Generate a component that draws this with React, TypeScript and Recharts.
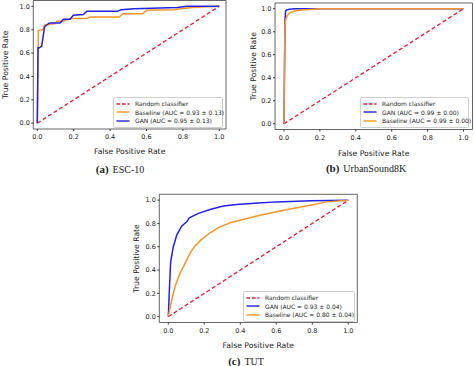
import React from 'react';
import { LineChart, Line, XAxis, YAxis, ReferenceArea, Legend, Label } from 'recharts';

// ESC-10
const ESC_BASE_FPR = [0, 0.006, 0.03, 0.04, 0.097, 0.107, 0.143, 0.16, 0.195, 0.27, 0.29, 0.45, 0.47, 0.58, 0.6, 0.75, 0.82, 0.9, 1.0];
const ESC_BASE_TPR = [0, 0.795, 0.8, 0.838, 0.852, 0.872, 0.872, 0.885, 0.895, 0.895, 0.909, 0.909, 0.937, 0.937, 0.966, 0.97, 0.985, 0.995, 1.0];
const ESC_GAN_FPR = [0, 0.004, 0.012, 0.024, 0.04, 0.05, 0.066, 0.125, 0.143, 0.18, 0.198, 0.253, 0.272, 0.44, 0.46, 0.53, 0.77, 0.82, 1.0];
const ESC_GAN_TPR = [0, 0.645, 0.645, 0.66, 0.825, 0.838, 0.858, 0.858, 0.89, 0.89, 0.923, 0.93, 0.957, 0.957, 0.97, 0.98, 0.99, 1.0, 1.0];

// UrbanSound8K
const URBAN_GAN_FPR = [0, 0.006, 0.009, 0.015, 0.03, 0.06, 1.0];
const URBAN_GAN_TPR = [0, 0.9, 0.98, 0.99, 0.995, 1.0, 1.0];
const URBAN_BASE_FPR = [0, 0.003, 0.006, 0.01, 0.02, 0.035, 0.06, 0.1, 0.2, 1.0];
const URBAN_BASE_TPR = [0, 0.6, 0.85, 0.91, 0.945, 0.965, 0.98, 0.99, 1.0, 1.0];

// TUT
const TUT_GAN_FPR = [0, 0.003, 0.006, 0.013, 0.028, 0.047, 0.074, 0.102, 0.117, 0.167, 0.232, 0.306, 0.38, 0.5, 0.6, 0.79, 1.0];
const TUT_GAN_TPR = [0, 0.12, 0.23, 0.47, 0.6, 0.7, 0.777, 0.814, 0.848, 0.886, 0.92, 0.949, 0.963, 0.975, 0.985, 0.995, 1.0];
const TUT_BASE_FPR = [0, 0.019, 0.037, 0.065, 0.093, 0.12, 0.148, 0.185, 0.232, 0.287, 0.343, 0.436, 0.51, 0.64, 0.79, 0.88, 1.0];
const TUT_BASE_TPR = [0, 0.143, 0.257, 0.372, 0.457, 0.543, 0.606, 0.663, 0.72, 0.771, 0.806, 0.843, 0.87, 0.914, 0.957, 0.985, 1.0];

const DIAG = [0, 1];
const TICKS = [0, 0.2, 0.4, 0.6, 0.8, 1.0];

const BLUE = '#2222e6';
const ORANGE = '#f7952a';
const RED = '#e31c34';
const FONT = '"DejaVu Sans", sans-serif';

const pts = (xs: number[], ys: number[]) => xs.map((x, i) => ({ x, y: ys[i] }));

type Series = { name: string; color: string; dashed?: boolean; data: { x: number; y: number }[] };

const random: Series = { name: 'Random classifier', color: RED, dashed: true, data: pts(DIAG, DIAG) };

const panels = [
  {
    key: 'a', letter: '(a)', title: 'ESC-10',
    L: 0, T: 0, W: 228, H: 158, yw: 33.3, mt: 0.5, mr: 2, xh: 29, ylabOff: 5, xlabOff: 4,
    xDomain: [-0.022, 1.037], yDomain: [-0.05, 1.05],
    legend: { left: 113, top: 97, width: 110 },
    caption: { x: 120, y: 168 },
    series: [
      random,
      { name: 'Baseline (AUC = 0.93 ± 0.13)', color: ORANGE, data: pts(ESC_BASE_FPR, ESC_BASE_TPR) },
      { name: 'GAN (AUC = 0.95 ± 0.13)', color: BLUE, data: pts(ESC_GAN_FPR, ESC_GAN_TPR) },
    ] as Series[],
  },
  {
    key: 'b', letter: '(b)', title: 'UrbanSound8K',
    L: 245, T: 0, W: 228.5, H: 158, yw: 30, mt: 3, mr: 1, xh: 28.5, ylabOff: 8, xlabOff: 2.5,
    xDomain: [-0.05, 1.05], yDomain: [-0.05, 1.05],
    legend: { left: 115, top: 97, width: 109 },
    caption: { x: 366, y: 166.7 },
    series: [
      random,
      { name: 'GAN (AUC = 0.99 ± 0.00)', color: BLUE, data: pts(URBAN_GAN_FPR, URBAN_GAN_TPR) },
      { name: 'Baseline (AUC = 0.99 ± 0.00)', color: ORANGE, data: pts(URBAN_BASE_FPR, URBAN_BASE_TPR) },
    ] as Series[],
  },
  {
    key: 'c', letter: '(c)', title: 'TUT',
    L: 130, T: 190, W: 229.3, H: 160, yw: 29.3, mt: 4.3, mr: 2, xh: 27.5, ylabOff: 6.7, xlabOff: 2,
    xDomain: [-0.05, 1.05], yDomain: [-0.05, 1.05],
    legend: { left: 113, top: 101, width: 112 },
    caption: { x: 246, y: 359.5 },
    series: [
      random,
      { name: 'GAN (AUC = 0.93 ± 0.04)', color: BLUE, data: pts(TUT_GAN_FPR, TUT_GAN_TPR) },
      { name: 'Baseline (AUC = 0.80 ± 0.04)', color: ORANGE, data: pts(TUT_BASE_FPR, TUT_BASE_TPR) },
    ] as Series[],
  },
];

function LegendBox({ series, width }: { series: Series[]; width: number }) {
  return (
    <div style={{ width, boxSizing: 'border-box', border: '1px solid #d0d0d0', borderRadius: 2, background: 'rgba(255,255,255,0.85)', padding: '1.5px 2px 1.5px 2px', fontFamily: FONT, fontSize: 6, color: '#222' }}>
      {series.map((s) => (
        <div key={s.name} style={{ display: 'flex', alignItems: 'center', height: 8.6, whiteSpace: 'nowrap' }}>
          <svg width={14} height={6} style={{ marginRight: 5, flexShrink: 0 }}>
            <line x1={0.5} y1={3} x2={13.5} y2={3} stroke={s.color} strokeWidth={1.4} strokeDasharray={s.dashed ? '3.5 2' : undefined} />
          </svg>
          <span>{s.name}</span>
        </div>
      ))}
    </div>
  );
}

function RocPanel({ p }: { p: (typeof panels)[number] }) {
  const tickStyle = { fontFamily: FONT, fontSize: 6.5, fill: '#222' };
  const labelStyle = { fontFamily: FONT, fontSize: 7.7, fill: '#222', textAnchor: 'middle' as const };
  return (
    <div style={{ position: 'absolute', left: p.L, top: p.T }}>
      <LineChart width={p.W} height={p.H} margin={{ top: p.mt, right: p.mr, left: 0, bottom: 0 }}>
        <XAxis
          type="number"
          dataKey="x"
          domain={p.xDomain}
          ticks={TICKS}
          allowDataOverflow
          height={p.xh}
          axisLine={false}
          tickLine={{ stroke: '#333' }}
          tickSize={2}
          tickMargin={3.5}
          tick={tickStyle}
          tickFormatter={(v: number) => v.toFixed(1)}
        >
          <Label value="False Positive Rate" position="insideBottom" offset={p.xlabOff} style={labelStyle} />
        </XAxis>
        <YAxis
          type="number"
          dataKey="y"
          domain={p.yDomain}
          ticks={TICKS}
          allowDataOverflow
          width={p.yw}
          axisLine={false}
          tickLine={{ stroke: '#333' }}
          tickSize={2}
          tickMargin={1.5}
          tick={tickStyle}
          tickFormatter={(v: number) => v.toFixed(1)}
        >
          <Label value="True Positive Rate" position="insideLeft" angle={-90} offset={p.ylabOff} style={labelStyle} />
        </YAxis>
        {p.series.map((s) => (
          <Line
            key={s.name}
            data={s.data}
            dataKey="y"
            type="linear"
            stroke={s.color}
            strokeWidth={s.dashed ? 1.3 : 1.5}
            strokeDasharray={s.dashed ? '4 2.5' : undefined}
            dot={false}
            activeDot={false}
            isAnimationActive={false}
          />
        ))}
        <ReferenceArea
          x1={p.xDomain[0]}
          x2={p.xDomain[1]}
          y1={p.yDomain[0]}
          y2={p.yDomain[1]}
          fill="none"
          fillOpacity={0}
          stroke="#555"
          strokeWidth={0.9}
          ifOverflow="visible"
        />
        <Legend
          layout="vertical"
          align="center"
          verticalAlign="middle"
          wrapperStyle={{ left: p.legend.left, top: p.legend.top, width: p.legend.width }}
          content={() => <LegendBox series={p.series} width={p.legend.width} />}
        />
      </LineChart>
    </div>
  );
}

export default function App() {
  return (
    <div style={{ position: 'relative', width: 474, height: 366, overflow: 'hidden', background: '#fff' }}>
      <style>{'body{margin:0}'}</style>
      {panels.map((p) => (
        <RocPanel key={p.key} p={p} />
      ))}
      {panels.map((p) => (
        <div
          key={p.key + '-cap'}
          style={{ position: 'absolute', left: p.caption.x - 80, top: p.caption.y - 6, width: 160, height: 12, lineHeight: '12px', textAlign: 'center', fontFamily: '"Liberation Serif", serif', color: '#222', whiteSpace: 'nowrap' }}
        >
          <span style={{ fontWeight: 'bold', fontSize: 11, lineHeight: '12px' }}>{p.letter}</span>
          <span style={{ fontSize: 10, marginLeft: 4, lineHeight: '12px' }}>{p.title}</span>
        </div>
      ))}
    </div>
  );
}
